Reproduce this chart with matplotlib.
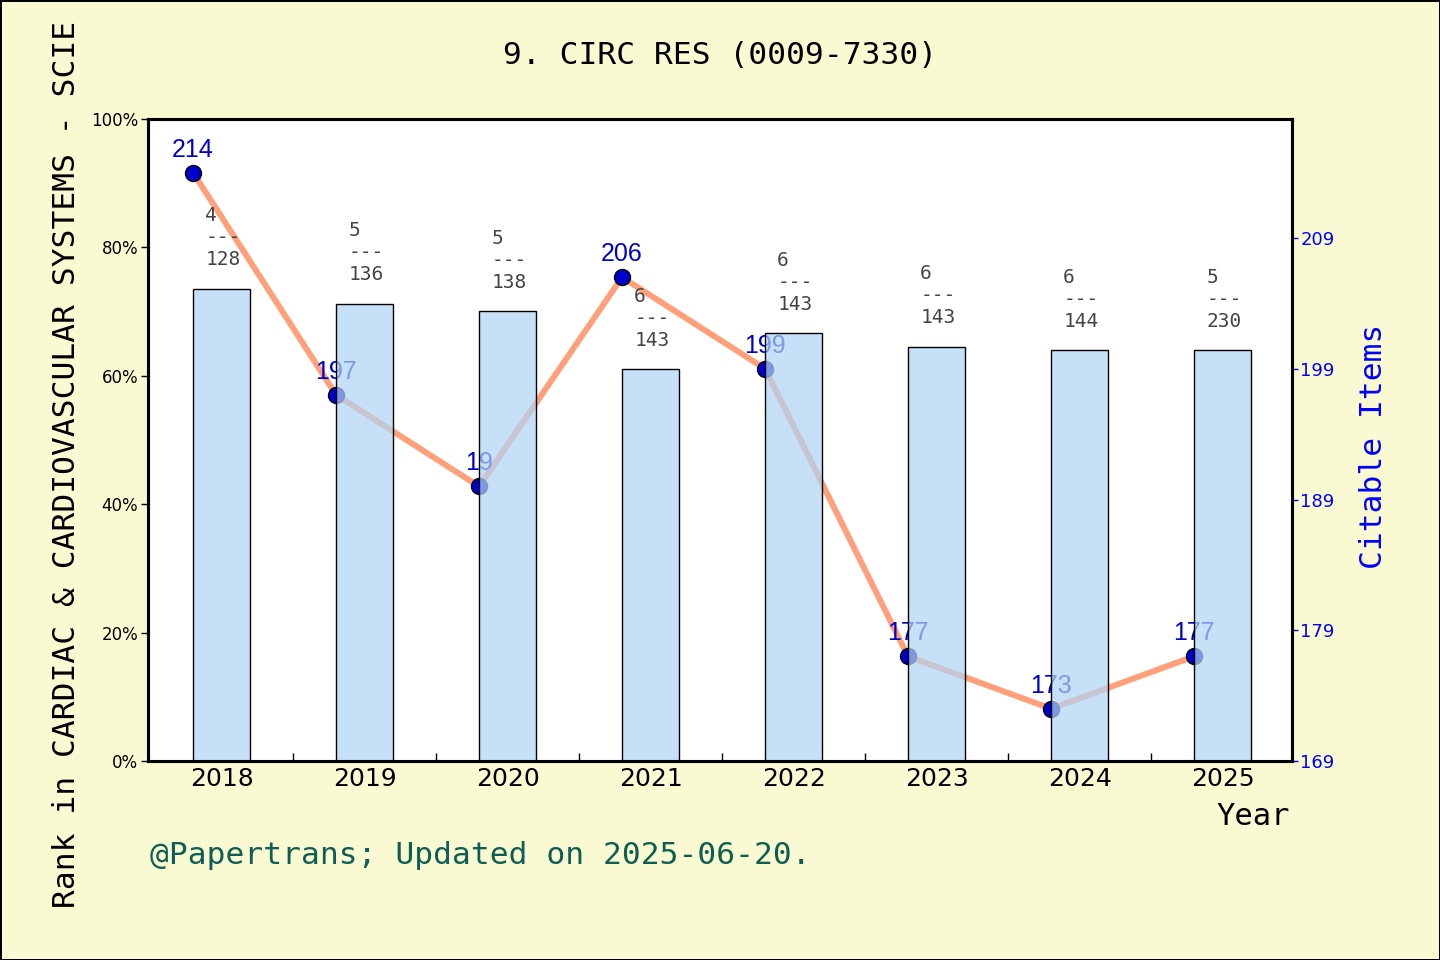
import numpy as np
import matplotlib.pyplot as plt

# datos
anios = ["2018", "2019", "2020", "2021", "2022", "2023", "2024", "2025"]
pct_rango = [73.6, 71.2, 70.1, 61.0, 66.6, 64.5, 64.0, 64.0]
rango = [4, 5, 5, 6, 6, 6, 6, 5]
total_cat = [128, 136, 138, 143, 143, 143, 144, 230]
citables = [214, 197, 190, 206, 199, 177, 173, 177]
# la etiqueta de 2020 aparece cortada en el original
etiquetas = ["214", "197", "19", "206", "199", "177", "173", "177"]

mono = "DejaVu Sans Mono"

fig = plt.figure(figsize=(14.4, 9.6), dpi=100, facecolor="lightgoldenrodyellow",
                 edgecolor="black", linewidth=2)
ax = fig.add_axes([0.1028, 0.2073, 0.7944, 0.6687])
ax2 = ax.twinx()
ax.set_zorder(ax2.get_zorder() + 1)
ax.patch.set_visible(False)
ax2.patch.set_visible(True)
ax2.patch.set_facecolor("white")

x = np.arange(len(anios))

# linea de items citables (eje derecho, queda debajo de las barras)
ax2.plot(x - 0.2, citables, color="#FFA07A", lw=4.3, zorder=2)
ax2.plot(x - 0.2, citables, "o", ms=11.5, mfc="#0000CD", mec="black", mew=1, zorder=3)
for xi, v, et in zip(x - 0.2, citables, etiquetas):
    ax2.annotate(et, (xi, v), xytext=(0, 8), textcoords="offset points",
                 ha="center", va="bottom", color="#0000CD", fontsize=18,
                 family="Liberation Sans", zorder=4)
ax2.set_ylim(169, 218.1)
ax2.set_yticks([169, 179, 189, 199, 209])
ax2.tick_params(axis="y", colors="#0000FF", labelsize=13, length=4, width=1, pad=2)

# barras de rango
ax.bar(x, pct_rango, width=0.4, color=(176 / 255, 212 / 255, 244 / 255, 0.72),
       edgecolor="black", linewidth=1, zorder=2)
for xi, p, r, t in zip(x, pct_rango, rango, total_cat):
    ax.annotate(f"{r}\n---\n{t}", (xi - 0.115, p), xytext=(0, 14), textcoords="offset points",
                ha="left", va="bottom", color="#444444", fontsize=14, family=mono,
                linespacing=1.2, multialignment="left", zorder=5)

ax.set_ylim(0, 100)
ax.set_yticks([0, 20, 40, 60, 80, 100])
ax.set_yticklabels([f"{v}%" for v in [0, 20, 40, 60, 80, 100]])
ax.tick_params(axis="y", labelsize=12, length=5, width=1, pad=2)
ax.set_xlim(-0.515, 7.485)
ax.set_xticks(x)
ax.set_xticklabels(anios)
ax.tick_params(axis="x", labelsize=18, length=0, pad=4)
ax.set_xticks(x[:-1] + 0.5, minor=True)
ax.tick_params(axis="x", which="minor", direction="in", length=6, width=1)

for a in (ax, ax2):
    for s in a.spines.values():
        s.set_linewidth(2.2)
        s.set_color("black")

fig.text(0.5, 0.9417, "9. CIRC RES (0009-7330)", ha="center", va="center",
         fontsize=22.5, family=mono)
fig.text(0.0465, 0.5167, "Rank in CARDIAC & CARDIOVASCULAR SYSTEMS - SCIE", rotation=90,
         ha="center", va="center", fontsize=22.5, family=mono)
fig.text(0.954, 0.535, "Citable Items", rotation=90, ha="center", va="center",
         fontsize=22.5, family=mono, color="#0000FF")
fig.text(0.896, 0.149, "Year", ha="right", va="center", fontsize=22, family=mono)
fig.text(0.104, 0.109, "@Papertrans; Updated on 2025-06-20.", ha="left", va="center",
         fontsize=22.5, family=mono, color="#0E5E56")

plt.savefig("out.png", dpi=100, facecolor=fig.get_facecolor(), edgecolor="black")
